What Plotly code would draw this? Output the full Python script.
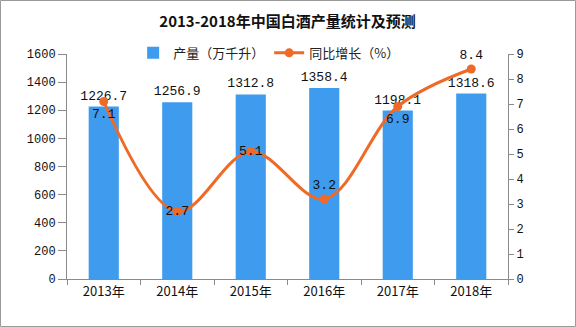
import plotly.graph_objects as go

years = ["2013年", "2014年", "2015年", "2016年", "2017年", "2018年"]
output = [1226.7, 1256.9, 1312.8, 1358.4, 1198.1, 1318.6]
growth = [7.1, 2.7, 5.1, 3.2, 6.9, 8.4]
growth_pos = ["bottom center", "middle center", "middle center",
              "top center", "bottom center", "top center"]

BAR = "#3e9bee"
LINE = "#ef6a26"
AXIS = "#8a8a8a"
FONT = "Liberation Mono, Noto Sans CJK SC, monospace"

fig = go.Figure()
fig.add_trace(go.Bar(
    x=years, y=output, name="产量（万千升）",
    marker=dict(color=BAR, line=dict(width=0)),
    width=0.41,
    text=[f"{v:.1f}" for v in output], textposition="outside",
    constraintext="none",
    textfont=dict(family=FONT, size=13, color="#111"),
    cliponaxis=False,
))
fig.add_trace(go.Scatter(
    x=years, y=growth, name="同比增长（%）", yaxis="y2",
    mode="lines+markers+text",
    line=dict(color=LINE, width=3, shape="spline", smoothing=1.0),
    marker=dict(color=LINE, size=9),
    text=[f"{v:.1f}" for v in growth], textposition=growth_pos,
    textfont=dict(family=FONT, size=13, color="#111"),
    cliponaxis=False,
))

L, R, T, B = 67, 68, 54, 48
W, H = 576, 327
pw, ph = W - L - R, H - T - B

fig.update_layout(
    width=W, height=H,
    margin=dict(l=L, r=R, t=T, b=B),
    paper_bgcolor="white", plot_bgcolor="white",
    font=dict(family=FONT, size=12, color="#222"),
    title=dict(text="<b>2013-2018年中国白酒产量统计及预测</b>",
               x=0.5, xref="paper", xanchor="center",
               y=1 - 22 / H, yref="container", yanchor="middle",
               font=dict(family="Noto Sans CJK SC, serif", size=15, color="#111")),
    showlegend=True,
    legend=dict(orientation="h", x=0.15, xanchor="left",
                y=1.005, yanchor="middle",
                font=dict(family="Noto Sans CJK SC", size=13, color="#222"),
                bgcolor="rgba(0,0,0,0)", itemwidth=30, tracegroupgap=0),
    bargap=0.59,
    xaxis=dict(showline=True, linecolor=AXIS, linewidth=1,
               ticks="outside", tickson="boundaries", ticklen=5, tickcolor=AXIS,
               showgrid=False, zeroline=False,
               tickfont=dict(family="Noto Sans CJK SC", size=13, color="#111")),
    yaxis=dict(range=[0, 1600], dtick=200, showline=True, linecolor=AXIS,
               ticks="outside", ticklen=8, tickcolor=AXIS,
               showgrid=False, zeroline=False,
               tickfont=dict(family=FONT, size=12, color="#111")),
    yaxis2=dict(range=[0, 9], dtick=1, overlaying="y", side="right",
                showline=True, linecolor=AXIS, ticks="outside", ticklen=5,
                tickcolor=AXIS, showgrid=False, zeroline=False,
                tickfont=dict(family=FONT, size=12, color="#111")),
    shapes=[dict(type="rect", xref="paper", yref="paper",
                 x0=(0.5 - L) / pw, x1=1 + (R - 0.5) / pw,
                 y0=-(B - 0.5) / ph, y1=1 + (T - 0.5) / ph,
                 line=dict(color="#9a9a9a", width=1), layer="below")],
)

fig.write_html("out.html")
